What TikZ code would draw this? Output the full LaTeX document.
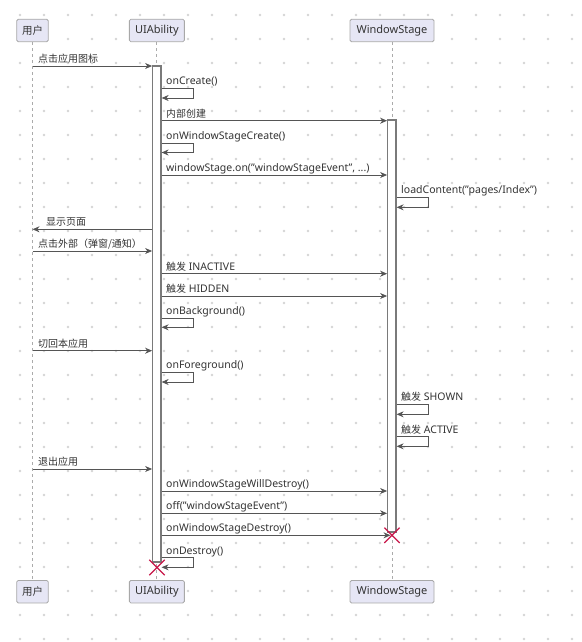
\documentclass[tikz,border=0pt]{standalone}
\usepackage{fontspec}
\setmainfont{Noto Sans}
\newfontfamily\cjk{Noto Sans CJK SC}[Scale=0.95]
\usetikzlibrary{arrows.meta,shapes.misc}
\newcommand{\dq}{\symbol{34}}
\definecolor{dotc}{HTML}{D4D4D4}
\definecolor{actfill}{HTML}{E6E6F5}
\definecolor{actdraw}{HTML}{A8A8A8}
\definecolor{linec}{HTML}{555555}
\definecolor{textc}{HTML}{333333}
\definecolor{barc}{HTML}{7A7A7A}
\definecolor{lifec}{HTML}{ABABAB}
\definecolor{crossc}{HTML}{C8174A}
\tikzset{
  actor/.style={draw=actdraw, fill=actfill, rounded corners=1.5pt, line width=0.8pt,
    minimum height=22.5pt, inner sep=0pt, text=textc, font=\fontsize{11}{13}\selectfont},
  life/.style={draw=lifec, line width=0.8pt, dash pattern=on 3pt off 3pt},
  actbar/.style={draw=barc, fill=white, line width=1.2pt, minimum width=8.3pt, inner sep=0pt},
  msg/.style={draw=linec, line width=0.9pt, -{Stealth[length=7pt,width=6pt,inset=2.2pt]}},
  lbl/.style={anchor=base west, inner sep=0pt, text=textc, font=\fontsize{10.5}{12}\selectfont},
  killmark/.style={cross out, draw=crossc, line width=1.3pt, minimum size=14pt, inner sep=0pt}
}
\begin{document}
\begin{tikzpicture}[x=1pt,y=-1pt]
\useasboundingbox (0,0) rectangle (581,642);
% dot grid
\foreach \i in {0,...,23}{
  \foreach \j in {0,...,26}{
    \fill[dotc] ({20+24*\i},{15+24*\j}) circle (1.4pt);
  }
}
% actors
\node[actor, minimum width=31.6pt] (u) at (32.5,30.5) {\cjk 用户};
\node[actor, minimum width=55pt] (a) at (156.85,30.5) {UIAbility};
\node[actor, minimum width=84pt] (w) at (392,30.5) {WindowStage};
\node[actor, minimum width=31.6pt] (u2) at (32.5,591.7) {\cjk 用户};
\node[actor, minimum width=55pt] (a2) at (156.85,591.7) {UIAbility};
\node[actor, minimum width=84pt] (w2) at (392,591.7) {WindowStage};
% lifelines
\draw[life] (u.south) -- (u2.north);
\draw[life] (a.south) -- (a2.north);
\draw[life] (w.south) -- (w2.north);
% activation bars
\node[actbar, minimum height=496pt] (abar) at (156.85,314) {};
\node[actbar, minimum height=412pt] (wbar) at (391.85,326) {};
% messages
\draw[msg] (u |- 0,66) -- (abar.west |- 0,66);
\node[lbl] (l1) at (38,62.5) {\cjk 点击应用图标};
\draw[msg] (abar.east |- 0,88) -- ++(32,0) |- (abar.east |- 0,98);
\node[lbl] (l2) at (166,84.5) {onCreate()};
\draw[msg] (abar.east |- 0,120.7) -- (wbar.west |- 0,120.7);
\node[lbl] (l3) at (166,117.2) {\cjk 内部创建};
\draw[msg] (abar.east |- 0,143) -- ++(32,0) |- (abar.east |- 0,152.5);
\node[lbl] (l4) at (166,139.5) {onWindowStageCreate()};
\draw[msg] (abar.east |- 0,175) -- (wbar.west |- 0,175);
\node[lbl] (l5) at (166,171.5) {windowStage.on(\dq windowStageEvent\dq, ...)};
\draw[msg] (wbar.east |- 0,197) -- ++(32,0) |- (wbar.east |- 0,207.3);
\node[lbl] (l6) at (401,193.5) {loadContent(\dq pages/Index\dq)};
\draw[msg] (abar.west |- 0,229.3) -- (u |- 0,229.3);
\node[lbl] (l7) at (46,225.8) {\cjk 显示页面};
\draw[msg] (u |- 0,251) -- (abar.west |- 0,251);
\node[lbl] (l8) at (38,247.5) {\cjk 点击外部（弹窗/通知）};
\draw[msg] (abar.east |- 0,273.7) -- (wbar.west |- 0,273.7);
\node[lbl] (l9) at (166,270.2) {{\cjk 触发} INACTIVE};
\draw[msg] (abar.east |- 0,296) -- (wbar.west |- 0,296);
\node[lbl] (l10) at (166,292.5) {{\cjk 触发} HIDDEN};
\draw[msg] (abar.east |- 0,318) -- ++(32,0) |- (abar.east |- 0,327.3);
\node[lbl] (l11) at (166,314.5) {onBackground()};
\draw[msg] (u |- 0,350.7) -- (abar.west |- 0,350.7);
\node[lbl] (l12) at (38,347.2) {\cjk 切回本应用};
\draw[msg] (abar.east |- 0,372.3) -- ++(32,0) |- (abar.east |- 0,382);
\node[lbl] (l13) at (166,368.8) {onForeground()};
\draw[msg] (wbar.east |- 0,404.3) -- ++(32,0) |- (wbar.east |- 0,414.3);
\node[lbl] (l14) at (401,400.8) {{\cjk 触发} SHOWN};
\draw[msg] (wbar.east |- 0,436.7) -- ++(32,0) |- (wbar.east |- 0,446.3);
\node[lbl] (l15) at (401,433.2) {{\cjk 触发} ACTIVE};
\draw[msg] (u |- 0,469) -- (abar.west |- 0,469);
\node[lbl] (l16) at (38,465.5) {\cjk 退出应用};
\draw[msg] (abar.east |- 0,491) -- (wbar.west |- 0,491);
\node[lbl] (l17) at (166,487.5) {onWindowStageWillDestroy()};
\draw[msg] (abar.east |- 0,513.3) -- (wbar.west |- 0,513.3);
\node[lbl] (l18) at (166,509.8) {off(\dq windowStageEvent\dq)};
% destroy marks
\node[killmark] (wx) at (392,535.3) {};
\node[killmark] (ax) at (157,567.5) {};
\draw[msg, shorten >=1.5pt] (abar.east |- 0,535.3) -- (wx.center);
\node[lbl] (l19) at (166,531.8) {onWindowStageDestroy()};
\draw[msg] (abar.east |- 0,557.7) -- ++(32,0) |- (abar.east |- 0,567.3);
\node[lbl] (l20) at (166,554.2) {onDestroy()};
\end{tikzpicture}
\end{document}
